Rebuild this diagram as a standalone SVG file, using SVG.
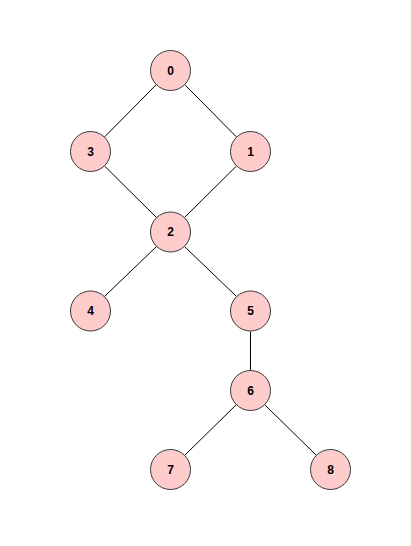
<svg xmlns="http://www.w3.org/2000/svg" width="411" height="546" viewBox="0 0 411 546">
<style>
.n circle{fill:#ffcccc;stroke:#36393d;stroke-width:1}
.n text{font-family:"Liberation Sans",Arial,sans-serif;font-size:12px;font-weight:bold;fill:#000;text-anchor:middle;dominant-baseline:central}
.e line{stroke:#000;stroke-width:1}
</style>
<rect width="411" height="546" fill="#fff"/>
<g id="edges" class="e">
<line x1="156.3" y1="84.6" x2="104.6" y2="136.9"/>
<line x1="184.7" y1="84.6" x2="236.4" y2="136.9"/>
<line x1="104.6" y1="166.1" x2="156.4" y2="217.4"/>
<line x1="236.4" y1="166.1" x2="184.6" y2="217.4"/>
<line x1="156.4" y1="246.6" x2="104.6" y2="296.4"/>
<line x1="184.6" y1="246.6" x2="236.4" y2="296.4"/>
<line x1="250.5" y1="331.5" x2="250.5" y2="370.5"/>
<line x1="236.4" y1="404.6" x2="184.6" y2="455.4"/>
<line x1="264.6" y1="404.6" x2="316.4" y2="455.4"/>
</g>
<g id="n0" class="n"><circle cx="170.5" cy="70.5" r="20"/><text x="170.5" y="70.5">0</text></g>
<g id="n3" class="n"><circle cx="90.5" cy="151.5" r="20"/><text x="90.5" y="151.5">3</text></g>
<g id="n1" class="n"><circle cx="250.5" cy="151.5" r="20"/><text x="250.5" y="151.5">1</text></g>
<g id="n2" class="n"><circle cx="170.5" cy="232" r="20"/><text x="170.5" y="232">2</text></g>
<g id="n4" class="n"><circle cx="90.5" cy="311" r="20"/><text x="90.5" y="311">4</text></g>
<g id="n5" class="n"><circle cx="250.5" cy="311" r="20"/><text x="250.5" y="311">5</text></g>
<g id="n6" class="n"><circle cx="250.5" cy="390.5" r="20"/><text x="250.5" y="390.5">6</text></g>
<g id="n7" class="n"><circle cx="170.5" cy="469.5" r="20"/><text x="170.5" y="469.5">7</text></g>
<g id="n8" class="n"><circle cx="330.5" cy="469.5" r="20"/><text x="330.5" y="469.5">8</text></g>
</svg>
